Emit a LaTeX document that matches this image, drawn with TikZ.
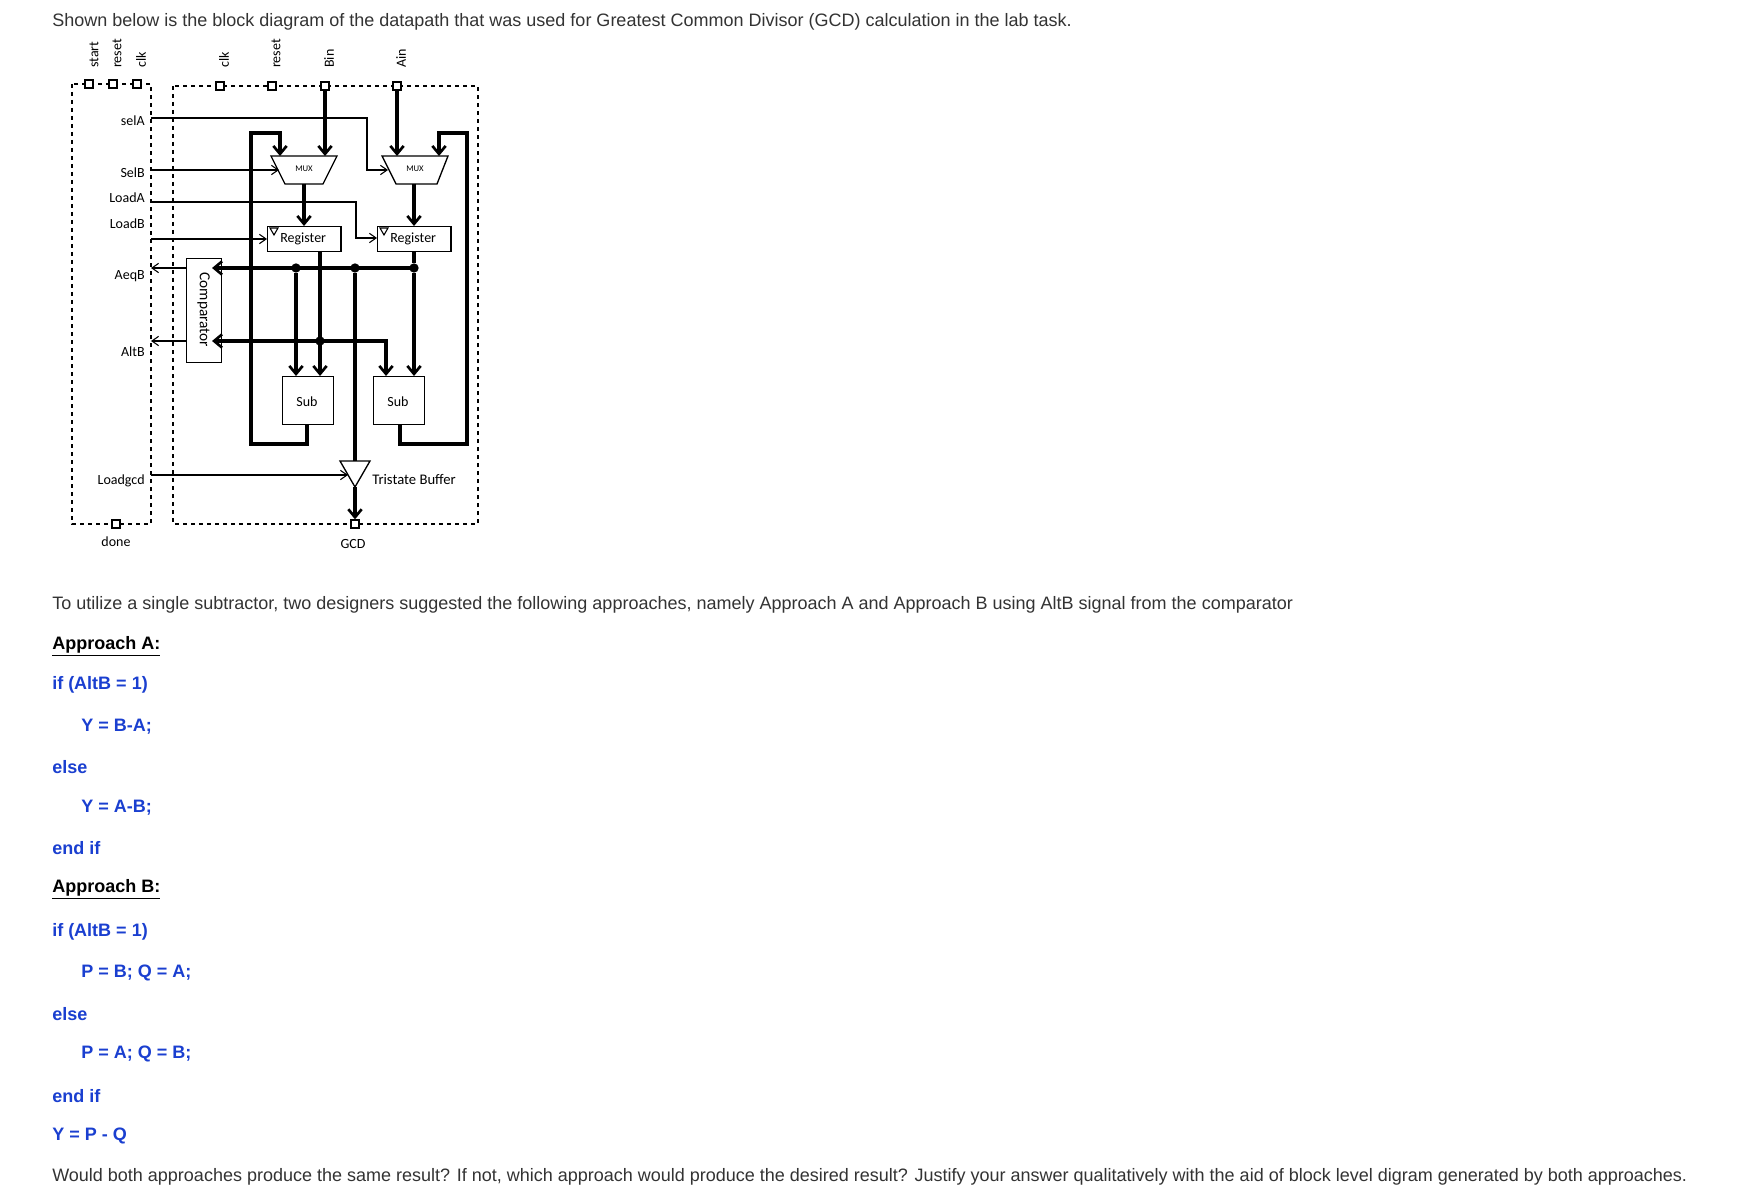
\documentclass[tikz,border=0pt]{standalone}
\usepackage{fontspec}
\setmainfont{Liberation Sans}
\newfontfamily\dg{Carlito}
\usetikzlibrary{arrows.meta}
\definecolor{txt}{HTML}{333333}
\definecolor{code}{HTML}{1A3FD0}
\begin{document}
\begin{tikzpicture}[x=0.75pt,y=-0.75pt,
  thin/.style={line width=0.8pt,-{Straight Barb[length=5pt,width=7pt]}},
  thk/.style={line width=2.3pt,-{Straight Barb[length=6pt,width=10pt,line width=2pt]}},
  thkl/.style={line width=2.3pt},
  port/.style={draw,line width=1pt,fill=white,minimum size=6pt,inner sep=0pt},
  blk/.style={draw,line width=1pt,inner sep=0pt},
  lab/.style={font=\dg\fontsize{10.5}{11}\selectfont,inner sep=0pt},
  vlab/.style={lab,rotate=90,anchor=west},
  dot/.style={circle,fill,inner sep=0pt,minimum size=7pt},
  para/.style={anchor=west,inner sep=0pt,text=txt,font=\fontsize{13.5}{15}\selectfont},
  cd/.style={anchor=west,inner sep=0pt,text=code,font=\bfseries\fontsize{13.5}{15}\selectfont}]
\useasboundingbox (0,0) rectangle (1756,1191);
\fill[white] (0,0) rectangle (1756,1191);
% dashed boxes
\draw[dashed,line width=1pt] (72,84) rectangle (151,524);
\draw[dashed,line width=1pt] (173,86) rectangle (478,524);
% ports
\node[port] (pstart) at (89,84) {};
\node[port] (preset) at (113,84) {};
\node[port] (pclk) at (137,84) {};
\node[port] (qclk) at (220,86) {};
\node[port] (qreset) at (272,86) {};
\node[port] (pbin) at (325,86) {};
\node[port] (pain) at (397,86) {};
\node[port] (pdone) at (116,524) {};
\node[port] (pgcd) at (355,524) {};
\node[vlab] (lstart) at (94,68) {start};
\node[vlab] (lreset) at (117,68) {reset};
\node[vlab] (lclk) at (141,68) {clk};
\node[vlab] (lclk2) at (224,68) {clk};
\node[vlab] (lreset2) at (276,68) {reset};
\node[vlab] (lbin) at (329,68) {Bin};
\node[vlab] (lain) at (401,68) {Ain};
% left labels
\node[lab,anchor=east] (lselA) at (145,121) {selA};
\node[lab,anchor=east] (lselB) at (145,173) {SelB};
\node[lab,anchor=east] (lloadA) at (145,198) {LoadA};
\node[lab,anchor=east] (lloadB) at (145,224) {LoadB};
\node[lab,anchor=east] (laeqb) at (145,276) {AeqB};
\node[lab,anchor=east] (laltb) at (145,352) {AltB};
\node[lab,anchor=east] (lgcd) at (145,481) {Loadgcd};
\node[lab] (ldone) at (116,542) {done};
\node[lab] (lgcdo) at (353,544) {GCD};
% mux
\draw[line width=1pt] (271,156) -- (337,156) -- (323,184) -- (285,184) -- cycle;
\node[lab,font=\dg\fontsize{6.5}{7}\selectfont] (mux1) at (304,169) {MUX};
\draw[line width=1pt] (382,156) -- (448,156) -- (437,184) -- (396,184) -- cycle;
\node[lab,font=\dg\fontsize{6.5}{7}\selectfont] (mux2) at (415,169) {MUX};
% registers
\node[blk,minimum width=55pt,minimum height=18.8pt,anchor=north west] (reg1) at (267,226) {};
\node[lab,anchor=west] at (280,239) {Register};
\draw[line width=0.8pt] (270,228) -- (278,228) -- (274,235) -- cycle;
\node[blk,minimum width=55pt,minimum height=18.8pt,anchor=north west] (reg2) at (377,226) {};
\node[lab,anchor=west] at (390,239) {Register};
\draw[line width=0.8pt] (380,228) -- (388,228) -- (384,235) -- cycle;
% comparator
\node[blk,minimum width=26pt,minimum height=78pt,anchor=north west] (comp) at (186,258) {};
\node[lab,rotate=-90,font=\dg\fontsize{11.5}{12}\selectfont] at (203.5,310) {Comparator};
% subs
\node[blk,minimum width=38pt,minimum height=36pt,anchor=north west] (sub1) at (282,376) {};
\node[lab] at (307,402) {Sub};
\node[blk,minimum width=38pt,minimum height=36pt,anchor=north west] (sub2) at (373,376) {};
\node[lab] at (398,402) {Sub};
% tristate
\draw[line width=1pt] (340,461) -- (370,461) -- (355,487) -- cycle;
\node[lab,anchor=west,font=\dg\fontsize{11}{12}\selectfont] (ltri) at (372,479) {Tristate Buffer};
% control lines
\draw[line width=0.8pt,-{Straight Barb[length=5pt,width=7pt]}] (151,118) -- (367,118) -- (367,170) -- (388,170);
\draw[thin] (151,170) -- (279,170);
\draw[line width=0.8pt,-{Straight Barb[length=5pt,width=7pt]}] (151,202) -- (356,202) -- (356,238) -- (377,238);
\draw[thin] (151,239) -- (267,239);
\draw[thin] (186,268) -- (151,268);
\draw[thin] (186,341) -- (151,341);
\draw[thin] (151,475) -- (348,475);
% inputs
\draw[thk] (pbin) -- (325,156);
\draw[thk] (pain) -- (397,156);
% mux to reg
\draw[thk] (304,184) -- (304,226);
\draw[thk] (414,184) -- (414,226);
% bus A
\draw[thk] (414,268) -- (212,268);
\node[dot] (d1) at (296,268) {};
\node[dot] (d2) at (355,268) {};
\node[dot] (d3) at (414,268) {};
\draw[thkl] (414,251) -- (d3);
\draw[thk] (d3) -- (414,376);
\draw[thk] (d1) -- (296,376);
\draw[thkl] (d2) -- (355,461);
% reg1 output
\draw[thk] (320,251) -- (320,376);
\node[dot] (d4) at (320,341) {};
\draw[thk] (386,341) -- (212,341);
\draw[thk] (d4) -- (386,341) -- (386,376);
% feedback
\draw[thk] (307,424) -- (307,444) -- (251,444) -- (251,133) -- (280,133) -- (280,156);
\draw[thk] (400,424) -- (400,444) -- (467,444) -- (467,133) -- (439,133) -- (439,156);
% tristate out
\draw[thk] (355,487) -- (pgcd);
% text
\node[para] (t1) at (52,22) {Shown below is the block diagram of the datapath that was used for Greatest Common Divisor (GCD) calculation in the lab task.};
\node[para] (t2) at (52,605) {To utilize a single subtractor, two designers suggested the following approaches, namely Approach A and Approach B using AltB signal from the comparator};
\node[para,font=\bfseries\fontsize{13.5}{15}\selectfont,text=black] (ha) at (52,646) {\underline{Approach A:}};
\node[cd] at (52,685) {if (AltB = 1)};
\node[cd] at (81,727) {Y = B-A;};
\node[cd] at (52,767) {else};
\node[cd] at (81,808) {Y = A-B;};
\node[cd] at (52,848) {end if};
\node[para,font=\bfseries\fontsize{13.5}{15}\selectfont,text=black] (hb) at (52,889) {\underline{Approach B:}};
\node[cd] at (52,932) {if (AltB = 1)};
\node[cd] at (81,973) {P = B; Q = A;};
\node[cd] at (52,1014) {else};
\node[cd] at (81,1054) {P = A; Q = B;};
\node[cd] at (52,1096) {end if};
\node[cd] at (52,1136) {Y = P - Q};
\node[para] (t3) at (52,1177) {Would both approaches produce the same result? If not, which approach would produce the desired result? Justify your answer qualitatively with the aid of block level digram generated by both approaches.};
\end{tikzpicture}
\end{document}
